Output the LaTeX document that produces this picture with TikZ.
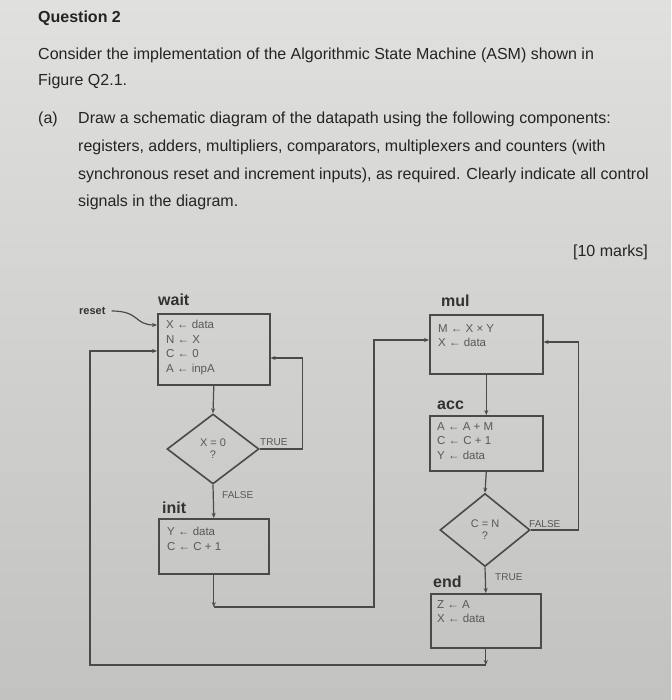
\documentclass[tikz,border=0pt]{standalone}
\usepackage{fontspec}
\setmainfont{Liberation Sans}
\usetikzlibrary{shapes.geometric,arrows.meta,positioning}
\definecolor{papertop}{RGB}{224,224,222}
\definecolor{paperbot}{RGB}{194,194,192}
\definecolor{ink}{RGB}{36,36,36}
\definecolor{linec}{RGB}{74,74,74}
\definecolor{boxtxt}{RGB}{88,88,88}
\definecolor{labc}{RGB}{50,50,50}

\begin{document}
\begin{tikzpicture}[x=1pt,y=-1pt,
  para/.style={anchor=base west,inner sep=0,text=ink,font=\fontsize{16}{16}\selectfont},
  statebox/.style={draw=linec,line width=1.6pt,rectangle,anchor=north west,inner sep=0},
  acts/.style={anchor=north west,align=left,inner sep=0,text=boxtxt,font=\fontsize{11.5}{14.5}\selectfont},
  sname/.style={anchor=base west,inner sep=0,text=labc,font=\fontsize{16}{16}\selectfont\bfseries},
  test/.style={draw=linec,line width=1.6pt,diamond,inner sep=0,align=center,text=boxtxt,font=\fontsize{11}{12}\selectfont},
  cond/.style={anchor=west,inner sep=0,text=boxtxt,font=\fontsize{10}{10}\selectfont},
  wire/.style={draw=linec,line width=1.2pt},
  arr/.style={wire,-{Stealth[length=5pt,width=4pt]}}]
\shade[top color=papertop,bottom color=paperbot] (0,0) rectangle (671,700);
\useasboundingbox (0,0) rectangle (671,700);

\node[para,font=\fontsize{16}{16}\selectfont\bfseries] (qtitle) at (38,23) {Question 2};
\node[para] (qline1) at (38,60) {Consider the implementation of the Algorithmic State Machine (ASM) shown in};
\node[para] (qline2) at (38,86) {Figure Q2.1.};
\node[para] (qparta) at (38,124) {(a)};
\node[para] (qline3) at (78,124) {Draw a schematic diagram of the datapath using the following components:};
\node[para] (qline4) at (78,152) {registers, adders, multipliers, comparators, multiplexers and counters (with};
\node[para] (qline5) at (78,180) {synchronous reset and increment inputs), as required. Clearly indicate all control};
\node[para] (qline6) at (78,207) {signals in the diagram.};
\node[para,anchor=base east] (qmarks) at (648,256) {[10 marks]};

\node[statebox,minimum width=112pt,minimum height=71pt] (waitbox) at (157,313) {};
\node[sname] (waitname) at (158,305) {wait};
\node[acts] (waitacts) at (166,320) {X ← data\\N ← X\\C ← 0\\A ← inpA};
\node[anchor=west,inner sep=0,text=labc,font=\fontsize{11}{11}\selectfont\bfseries] (resetlbl) at (79,311) {reset};

\node[test,minimum width=92pt,minimum height=70pt] (testx) at (213,449) {X = 0\\?};
\node[cond,anchor=south west] (xtrue) at (260,446) {TRUE};
\node[cond] (xfalse) at (222,495) {FALSE};

\node[statebox,minimum width=110pt,minimum height=55pt] (initbox) at (158,518) {};
\node[sname] (initname) at (162,513) {init};
\node[acts] (initacts) at (167,527) {Y ← data\\C ← C + 1};

\node[statebox,minimum width=113pt,minimum height=59pt] (mulbox) at (429,314) {};
\node[sname] (mulname) at (441,306) {mul};
\node[acts] (mulacts) at (438,324) {M ← X × Y\\X ← data};

\node[statebox,minimum width=113pt,minimum height=55pt] (accbox) at (429,415) {};
\node[sname] (accname) at (437,409) {acc};
\node[acts] (accacts) at (437,422) {A ← A + M\\C ← C + 1\\Y ← data};

\node[test,minimum width=90pt,minimum height=73pt] (testc) at (485,530) {C = N\\?};
\node[cond,anchor=south west] (cfalse) at (529,528) {FALSE};
\node[cond] (ctrue) at (495,577) {TRUE};

\node[statebox,minimum width=110pt,minimum height=54pt] (endbox) at (430,593) {};
\node[sname] (endname) at (433,587) {end};
\node[acts] (endacts) at (437,600) {Z ← A\\X ← data};

\coordinate (resetin) at ([shift={(0,12)}]waitbox.north west);
\coordinate (jinit) at (initbox.south |- 0,607);
\coordinate (jend) at (endbox.south |- 0,665);

\draw[arr] (resetlbl.east) ++(6,0) .. controls (140,311) and (134,325) .. (resetin);
\draw[arr] (waitbox.south) -- (testx.north);
\draw[arr] (testx.east) -- ++(43,0) |- ([shift={(0,45)}]waitbox.north east);
\draw[arr] (testx.south) -- (initbox.north);
\draw[arr] (initbox.south) -- (jinit);
\draw[arr] (jinit) -- (374,607) |- ([shift={(0,26)}]mulbox.north west);
\draw[arr] (mulbox.south) -- (accbox.north);
\draw[arr] (accbox.south) -- (testc.north);
\draw[arr] (testc.east) -- ++(48,0) |- ([shift={(0,28)}]mulbox.north east);
\draw[arr] (testc.south) -- (endbox.north);
\draw[arr] (endbox.south) -- (jend);
\draw[arr] (jend) -- (90,665) |- ([shift={(0,38)}]waitbox.north west);
\end{tikzpicture}
\end{document}
